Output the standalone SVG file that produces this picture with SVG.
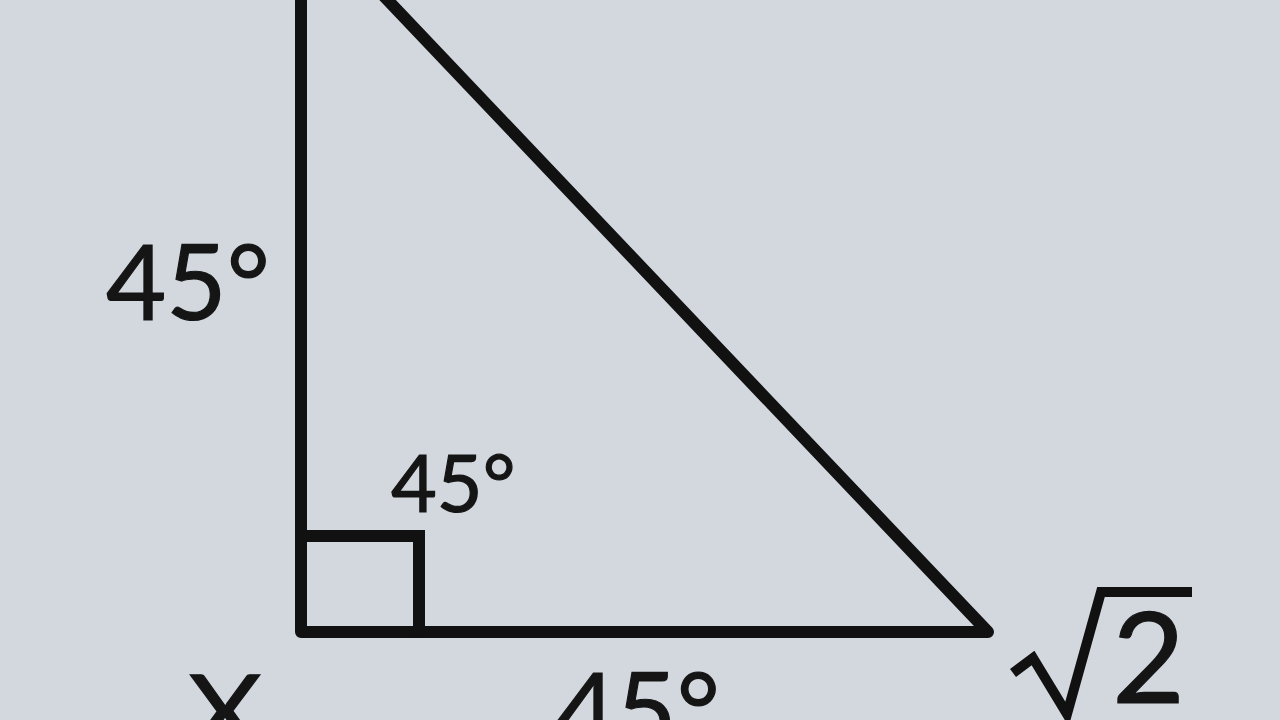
<svg xmlns="http://www.w3.org/2000/svg" width="1280" height="720" viewBox="0 0 1280 720">
<style>
.ln{fill:none;stroke:#111;stroke-width:12;stroke-linejoin:round;stroke-linecap:round}
.t{font-family:Lato,"Open Sans","Liberation Sans",sans-serif;fill:#151515;stroke:#151515;stroke-width:1.2}
</style>
<rect width="1280" height="720" fill="#d2d8de"/>
<g id="connectors">
<polyline id="triangle" class="ln" points="301,-10 301,632 988,632 380,-8" style="stroke-linecap:butt"/>
<polyline id="right-angle" class="ln" points="301,536 419,536 419,632" style="stroke-linejoin:miter"/>
</g>
<g id="label-left"><text class="t" x="106" y="320" font-size="104">45°</text></g>
<g id="label-mid"><text class="t" x="391" y="512" font-size="79">45°</text></g>
<g id="label-bottom"><text class="t" x="556" y="748" font-size="104">45°</text></g>
<g id="label-x"><text class="t" x="188" y="750" font-size="104" textLength="74" lengthAdjust="spacingAndGlyphs">X</text></g>
<g id="label-sqrt2">
<polyline class="ln" points="1013,673 1033,658 1067,714 1101,592 1192,592" style="stroke-width:10;stroke-linecap:butt;stroke-linejoin:miter"/>
<text class="t" x="1112" y="703" font-size="126">2</text>
</g>
</svg>
